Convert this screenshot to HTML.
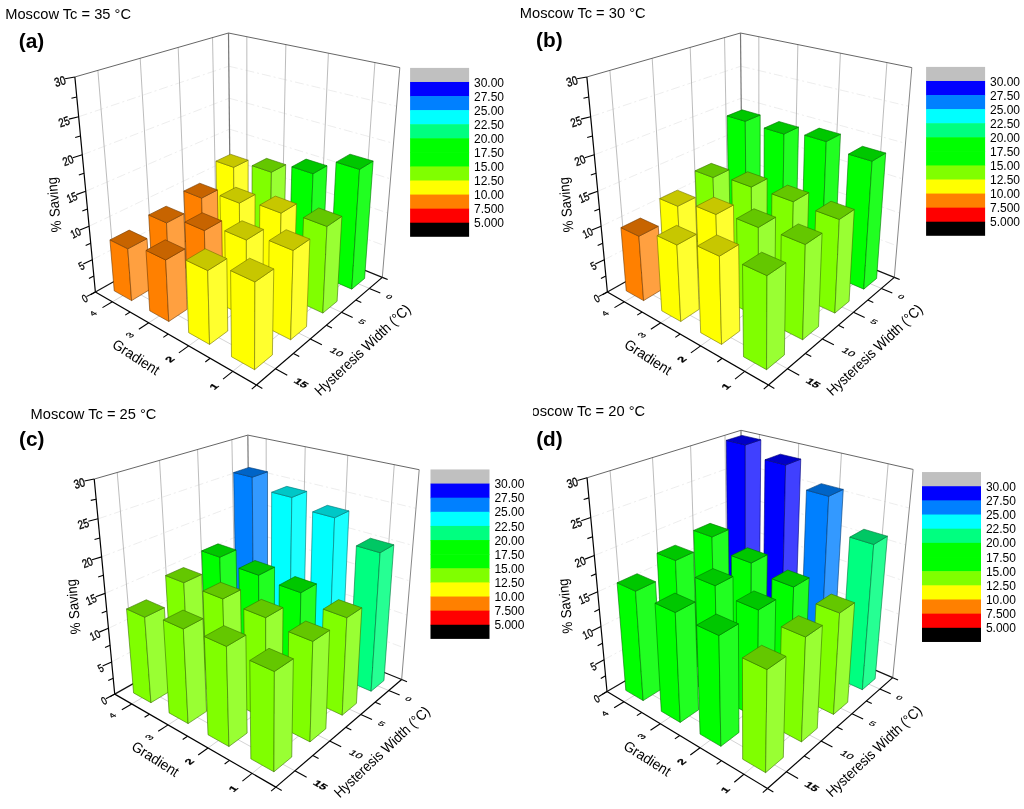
<!DOCTYPE html>
<html><head><meta charset="utf-8"><title>Moscow Saving</title>
<style>html,body{margin:0;padding:0;background:#fff}svg{display:block}text{font-family:"Liberation Sans",Arial,sans-serif;fill:#000}</style>
</head><body>
<svg width="1024" height="809" viewBox="0 0 1024 809">
<defs><clipPath id="cd"><rect x="533.1" y="400" width="200" height="30"/></clipPath></defs>
<rect width="1024" height="809" fill="#fff"/>
<g>
<polygon points="95.38,292.01 230.37,215.79 228.49,33.02 74.87,76.96" fill="#fff" stroke="none" stroke-width="0" stroke-linejoin="round"/>
<polygon points="230.37,215.79 382.30,277.37 399.84,67.59 228.49,33.02" fill="#fff" stroke="none" stroke-width="0" stroke-linejoin="round"/>
<line x1="92.30" y1="259.78" x2="230.09" y2="187.87" stroke="#e9e9e9" stroke-width="0.8" stroke-dasharray="9 3 2 3"/>
<line x1="230.09" y1="187.87" x2="384.94" y2="245.82" stroke="#e9e9e9" stroke-width="0.8" stroke-dasharray="9 3 2 3"/>
<line x1="89.11" y1="226.23" x2="229.79" y2="159.00" stroke="#e9e9e9" stroke-width="0.8" stroke-dasharray="9 3 2 3"/>
<line x1="229.79" y1="159.00" x2="387.68" y2="213.02" stroke="#e9e9e9" stroke-width="0.8" stroke-dasharray="9 3 2 3"/>
<line x1="85.77" y1="191.27" x2="229.48" y2="129.14" stroke="#e9e9e9" stroke-width="0.8" stroke-dasharray="9 3 2 3"/>
<line x1="229.48" y1="129.14" x2="390.53" y2="178.89" stroke="#e9e9e9" stroke-width="0.8" stroke-dasharray="9 3 2 3"/>
<line x1="82.30" y1="154.80" x2="229.16" y2="98.22" stroke="#e9e9e9" stroke-width="0.8" stroke-dasharray="9 3 2 3"/>
<line x1="229.16" y1="98.22" x2="393.51" y2="143.33" stroke="#e9e9e9" stroke-width="0.8" stroke-dasharray="9 3 2 3"/>
<line x1="78.67" y1="116.74" x2="228.83" y2="66.21" stroke="#e9e9e9" stroke-width="0.8" stroke-dasharray="9 3 2 3"/>
<line x1="228.83" y1="66.21" x2="396.61" y2="106.26" stroke="#e9e9e9" stroke-width="0.8" stroke-dasharray="9 3 2 3"/>
<line x1="216.07" y1="223.86" x2="212.54" y2="37.58" stroke="#b4b4b4" stroke-width="0.9"/>
<line x1="185.50" y1="241.12" x2="178.20" y2="47.41" stroke="#b4b4b4" stroke-width="0.9"/>
<line x1="152.03" y1="260.02" x2="140.19" y2="58.28" stroke="#b4b4b4" stroke-width="0.9"/>
<line x1="115.21" y1="280.81" x2="97.88" y2="70.38" stroke="#b4b4b4" stroke-width="0.9"/>
<line x1="360.55" y1="268.55" x2="374.91" y2="62.56" stroke="#b4b4b4" stroke-width="0.9"/>
<line x1="319.65" y1="251.97" x2="328.40" y2="53.17" stroke="#b4b4b4" stroke-width="0.9"/>
<line x1="281.89" y1="236.67" x2="285.87" y2="44.60" stroke="#b4b4b4" stroke-width="0.9"/>
<line x1="246.91" y1="222.49" x2="246.83" y2="36.72" stroke="#b4b4b4" stroke-width="0.9"/>
<line x1="74.87" y1="76.96" x2="228.49" y2="33.02" stroke="#555" stroke-width="0.9"/>
<line x1="228.49" y1="33.02" x2="399.84" y2="67.59" stroke="#555" stroke-width="0.9"/>
<line x1="228.49" y1="33.02" x2="230.37" y2="215.79" stroke="#777" stroke-width="1.2"/>
<line x1="399.84" y1="67.59" x2="382.30" y2="277.37" stroke="#888" stroke-width="1"/>
<polygon points="95.38,292.01 256.48,385.03 382.30,277.37 230.37,215.79" fill="#fff" stroke="none" stroke-width="0" stroke-linejoin="round"/>
<line x1="369.38" y1="288.42" x2="216.07" y2="223.86" stroke="#cfcfcf" stroke-width="0.9"/>
<line x1="341.46" y1="312.31" x2="185.50" y2="241.12" stroke="#cfcfcf" stroke-width="0.9"/>
<line x1="310.37" y1="338.92" x2="152.03" y2="260.02" stroke="#cfcfcf" stroke-width="0.9"/>
<line x1="275.53" y1="368.73" x2="115.21" y2="280.81" stroke="#cfcfcf" stroke-width="0.9"/>
<line x1="360.55" y1="268.55" x2="232.71" y2="371.31" stroke="#cfcfcf" stroke-width="0.9"/>
<line x1="319.65" y1="251.97" x2="188.66" y2="345.87" stroke="#cfcfcf" stroke-width="0.9"/>
<line x1="281.89" y1="236.67" x2="148.73" y2="322.81" stroke="#cfcfcf" stroke-width="0.9"/>
<line x1="246.91" y1="222.49" x2="112.37" y2="301.82" stroke="#cfcfcf" stroke-width="0.9"/>
<line x1="95.38" y1="292.01" x2="230.37" y2="215.79" stroke="#111" stroke-width="1.2"/>
<line x1="230.37" y1="215.79" x2="382.30" y2="277.37" stroke="#111" stroke-width="1.2"/>
<polygon points="217.24,231.41 234.23,238.70 233.66,167.32 215.95,161.13" fill="#ffff00" stroke="#737300" stroke-width="0.6" stroke-linejoin="round"/>
<polygon points="234.23,238.70 248.13,230.33 248.15,160.17 233.66,167.32" fill="#ffff2e" stroke="#737300" stroke-width="0.6" stroke-linejoin="round"/>
<polygon points="215.95,161.13 233.66,167.32 248.15,160.17 230.55,154.25" fill="#c7c700" stroke="#737300" stroke-width="0.6" stroke-linejoin="round"/>
<polygon points="251.90,246.28 270.27,254.16 271.41,172.23 252.11,165.65" fill="#80ff00" stroke="#3a7300" stroke-width="0.6" stroke-linejoin="round"/>
<polygon points="270.27,254.16 283.91,245.12 285.69,164.63 271.41,172.23" fill="#99ff33" stroke="#3a7300" stroke-width="0.6" stroke-linejoin="round"/>
<polygon points="252.11,165.65 271.41,172.23 285.69,164.63 266.54,158.36" fill="#64c700" stroke="#3a7300" stroke-width="0.6" stroke-linejoin="round"/>
<polygon points="289.39,262.37 309.31,270.92 313.02,173.71 291.85,166.76" fill="#00ff00" stroke="#007300" stroke-width="0.6" stroke-linejoin="round"/>
<polygon points="309.31,270.92 322.61,261.11 327.01,165.70 313.02,173.71" fill="#21ff21" stroke="#007300" stroke-width="0.6" stroke-linejoin="round"/>
<polygon points="291.85,166.76 313.02,173.71 327.01,165.70 306.05,159.09" fill="#00c700" stroke="#007300" stroke-width="0.6" stroke-linejoin="round"/>
<polygon points="330.08,279.83 351.75,289.13 359.55,169.40 336.11,162.16" fill="#00ff00" stroke="#007300" stroke-width="0.6" stroke-linejoin="round"/>
<polygon points="351.75,289.13 364.60,278.47 373.14,161.04 359.55,169.40" fill="#21ff21" stroke="#007300" stroke-width="0.6" stroke-linejoin="round"/>
<polygon points="336.11,162.16 359.55,169.40 373.14,161.04 349.99,154.17" fill="#00c700" stroke="#007300" stroke-width="0.6" stroke-linejoin="round"/>
<polygon points="186.08,249.38 203.26,257.38 201.65,198.10 183.89,191.03" fill="#ff8000" stroke="#733a00" stroke-width="0.6" stroke-linejoin="round"/>
<polygon points="203.26,257.38 218.48,248.20 217.45,189.95 201.65,198.10" fill="#ffa040" stroke="#733a00" stroke-width="0.6" stroke-linejoin="round"/>
<polygon points="183.89,191.03 201.65,198.10 217.45,189.95 199.78,183.21" fill="#c76400" stroke="#733a00" stroke-width="0.6" stroke-linejoin="round"/>
<polygon points="221.14,265.71 239.77,274.39 239.42,203.11 219.99,195.59" fill="#ffff00" stroke="#737300" stroke-width="0.6" stroke-linejoin="round"/>
<polygon points="239.77,274.39 254.78,264.44 255.08,194.45 239.42,203.11" fill="#ffff2e" stroke="#737300" stroke-width="0.6" stroke-linejoin="round"/>
<polygon points="219.99,195.59 239.42,203.11 255.08,194.45 235.79,187.29" fill="#c7c700" stroke="#737300" stroke-width="0.6" stroke-linejoin="round"/>
<polygon points="259.20,283.44 279.48,292.89 281.08,213.13 259.77,205.02" fill="#ffff00" stroke="#737300" stroke-width="0.6" stroke-linejoin="round"/>
<polygon points="279.48,292.89 294.17,282.07 296.44,203.80 281.08,213.13" fill="#ffff2e" stroke="#737300" stroke-width="0.6" stroke-linejoin="round"/>
<polygon points="259.77,205.02 281.08,213.13 296.44,203.80 275.32,196.09" fill="#c7c700" stroke="#737300" stroke-width="0.6" stroke-linejoin="round"/>
<polygon points="300.68,302.76 322.84,313.09 326.98,226.47 303.53,217.64" fill="#80ff00" stroke="#3a7300" stroke-width="0.6" stroke-linejoin="round"/>
<polygon points="322.84,313.09 337.10,301.27 341.89,216.32 326.98,226.47" fill="#99ff33" stroke="#3a7300" stroke-width="0.6" stroke-linejoin="round"/>
<polygon points="303.53,217.64 326.98,226.47 341.89,216.32 318.70,207.95" fill="#64c700" stroke="#3a7300" stroke-width="0.6" stroke-linejoin="round"/>
<polygon points="151.90,269.10 169.20,277.92 166.52,222.86 148.70,214.93" fill="#ff8000" stroke="#733a00" stroke-width="0.6" stroke-linejoin="round"/>
<polygon points="169.20,277.92 185.96,267.81 183.91,213.74 166.52,222.86" fill="#ffa040" stroke="#733a00" stroke-width="0.6" stroke-linejoin="round"/>
<polygon points="148.70,214.93 166.52,222.86 183.91,213.74 166.14,206.19" fill="#c76400" stroke="#733a00" stroke-width="0.6" stroke-linejoin="round"/>
<polygon points="187.25,287.11 206.10,296.71 204.38,230.59 184.80,222.09" fill="#ff8000" stroke="#733a00" stroke-width="0.6" stroke-linejoin="round"/>
<polygon points="206.10,296.71 222.69,285.72 221.68,220.82 204.38,230.59" fill="#ffa040" stroke="#733a00" stroke-width="0.6" stroke-linejoin="round"/>
<polygon points="184.80,222.09 204.38,230.59 221.68,220.82 202.21,212.74" fill="#c76400" stroke="#733a00" stroke-width="0.6" stroke-linejoin="round"/>
<polygon points="225.80,306.75 246.42,317.25 246.36,239.97 224.76,230.79" fill="#ffff00" stroke="#737300" stroke-width="0.6" stroke-linejoin="round"/>
<polygon points="246.42,317.25 262.73,305.24 263.45,229.43 246.36,239.97" fill="#ffff2e" stroke="#737300" stroke-width="0.6" stroke-linejoin="round"/>
<polygon points="224.76,230.79 246.36,239.97 263.45,229.43 242.02,220.74" fill="#c7c700" stroke="#737300" stroke-width="0.6" stroke-linejoin="round"/>
<polygon points="268.01,328.25 290.64,339.78 293.12,250.49 269.15,240.54" fill="#ffff00" stroke="#737300" stroke-width="0.6" stroke-linejoin="round"/>
<polygon points="290.64,339.78 306.54,326.60 309.85,239.08 293.12,250.49" fill="#ffff2e" stroke="#737300" stroke-width="0.6" stroke-linejoin="round"/>
<polygon points="269.15,240.54 293.12,250.49 309.85,239.08 286.13,229.68" fill="#c7c700" stroke="#737300" stroke-width="0.6" stroke-linejoin="round"/>
<polygon points="114.22,290.84 131.58,300.60 127.80,248.79 109.96,239.88" fill="#ff8000" stroke="#733a00" stroke-width="0.6" stroke-linejoin="round"/>
<polygon points="131.58,300.60 150.12,289.42 147.02,238.57 127.80,248.79" fill="#ffa040" stroke="#733a00" stroke-width="0.6" stroke-linejoin="round"/>
<polygon points="109.96,239.88 127.80,248.79 147.02,238.57 129.20,230.10" fill="#c76400" stroke="#733a00" stroke-width="0.6" stroke-linejoin="round"/>
<polygon points="149.74,310.80 168.75,321.48 165.66,259.99 146.00,250.36" fill="#ff8000" stroke="#733a00" stroke-width="0.6" stroke-linejoin="round"/>
<polygon points="168.75,321.48 187.18,309.26 184.87,248.94 165.66,259.99" fill="#ffa040" stroke="#733a00" stroke-width="0.6" stroke-linejoin="round"/>
<polygon points="146.00,250.36 165.66,259.99 184.87,248.94 165.28,239.81" fill="#c76400" stroke="#733a00" stroke-width="0.6" stroke-linejoin="round"/>
<polygon points="188.67,332.67 209.55,344.41 207.73,270.59 185.92,260.15" fill="#ffff00" stroke="#737300" stroke-width="0.6" stroke-linejoin="round"/>
<polygon points="209.55,344.41 227.76,331.00 226.84,258.62 207.73,270.59" fill="#ffff2e" stroke="#737300" stroke-width="0.6" stroke-linejoin="round"/>
<polygon points="185.92,260.15 207.73,270.59 226.84,258.62 205.16,248.76" fill="#c7c700" stroke="#737300" stroke-width="0.6" stroke-linejoin="round"/>
<polygon points="231.49,356.74 254.55,369.70 254.95,281.92 230.58,270.56" fill="#ffff00" stroke="#737300" stroke-width="0.6" stroke-linejoin="round"/>
<polygon points="254.55,369.70 272.40,354.90 273.79,268.90 254.95,281.92" fill="#ffff2e" stroke="#737300" stroke-width="0.6" stroke-linejoin="round"/>
<polygon points="230.58,270.56 254.95,281.92 273.79,268.90 249.64,258.20" fill="#c7c700" stroke="#737300" stroke-width="0.6" stroke-linejoin="round"/>
<line x1="95.38" y1="292.01" x2="74.87" y2="76.96" stroke="#000" stroke-width="1.2"/>
<line x1="95.38" y1="292.01" x2="256.48" y2="385.03" stroke="#000" stroke-width="1.2"/>
<line x1="256.48" y1="385.03" x2="382.30" y2="277.37" stroke="#000" stroke-width="1.2"/>
<line x1="95.38" y1="292.01" x2="86.51" y2="296.62" stroke="#000" stroke-width="1.1"/>
<line x1="93.86" y1="276.06" x2="88.92" y2="278.49" stroke="#000" stroke-width="1.1"/>
<line x1="92.30" y1="259.78" x2="83.24" y2="264.00" stroke="#000" stroke-width="1.1"/>
<line x1="90.72" y1="243.18" x2="85.68" y2="245.38" stroke="#000" stroke-width="1.1"/>
<line x1="89.11" y1="226.23" x2="79.85" y2="230.03" stroke="#000" stroke-width="1.1"/>
<line x1="87.46" y1="208.93" x2="82.32" y2="210.90" stroke="#000" stroke-width="1.1"/>
<line x1="85.77" y1="191.27" x2="76.35" y2="194.61" stroke="#000" stroke-width="1.1"/>
<line x1="84.05" y1="173.23" x2="78.83" y2="174.94" stroke="#000" stroke-width="1.1"/>
<line x1="82.30" y1="154.80" x2="72.72" y2="157.68" stroke="#000" stroke-width="1.1"/>
<line x1="80.50" y1="135.98" x2="75.19" y2="137.42" stroke="#000" stroke-width="1.1"/>
<line x1="78.67" y1="116.74" x2="68.95" y2="119.12" stroke="#000" stroke-width="1.1"/>
<line x1="76.79" y1="97.07" x2="71.42" y2="98.24" stroke="#000" stroke-width="1.1"/>
<line x1="74.87" y1="76.96" x2="65.05" y2="78.83" stroke="#000" stroke-width="1.1"/>
<line x1="256.48" y1="385.03" x2="251.74" y2="389.10" stroke="#000" stroke-width="1.1"/>
<line x1="232.71" y1="371.31" x2="223.04" y2="379.08" stroke="#000" stroke-width="1.1"/>
<line x1="210.13" y1="358.27" x2="205.29" y2="361.94" stroke="#000" stroke-width="1.1"/>
<line x1="188.66" y1="345.87" x2="178.86" y2="352.90" stroke="#000" stroke-width="1.1"/>
<line x1="168.22" y1="334.07" x2="163.33" y2="337.39" stroke="#000" stroke-width="1.1"/>
<line x1="148.73" y1="322.81" x2="138.86" y2="329.20" stroke="#000" stroke-width="1.1"/>
<line x1="130.13" y1="312.08" x2="125.22" y2="315.11" stroke="#000" stroke-width="1.1"/>
<line x1="112.37" y1="301.82" x2="102.48" y2="307.65" stroke="#000" stroke-width="1.1"/>
<line x1="95.38" y1="292.01" x2="90.47" y2="294.78" stroke="#000" stroke-width="1.1"/>
<line x1="382.30" y1="277.37" x2="387.66" y2="279.54" stroke="#000" stroke-width="1.1"/>
<line x1="369.38" y1="288.42" x2="380.30" y2="293.01" stroke="#000" stroke-width="1.1"/>
<line x1="355.79" y1="300.05" x2="361.29" y2="302.46" stroke="#000" stroke-width="1.1"/>
<line x1="341.46" y1="312.31" x2="352.66" y2="317.42" stroke="#000" stroke-width="1.1"/>
<line x1="326.35" y1="325.25" x2="331.98" y2="327.93" stroke="#000" stroke-width="1.1"/>
<line x1="310.37" y1="338.92" x2="321.85" y2="344.64" stroke="#000" stroke-width="1.1"/>
<line x1="293.46" y1="353.39" x2="299.23" y2="356.40" stroke="#000" stroke-width="1.1"/>
<line x1="275.53" y1="368.73" x2="287.27" y2="375.17" stroke="#000" stroke-width="1.1"/>
<line x1="256.48" y1="385.03" x2="262.38" y2="388.44" stroke="#000" stroke-width="1.1"/>
<text transform="matrix(0.6142 -0.3440 0.4300 0.7678 86.51 296.62)" font-size="12.5" text-anchor="end" y="5.30" font-weight="normal" stroke="#000" stroke-width="0.35">0</text>
<text transform="matrix(0.6402 -0.3294 0.4117 0.8003 83.24 264.00)" font-size="12.5" text-anchor="end" y="5.30" font-weight="normal" stroke="#000" stroke-width="0.35">5</text>
<text transform="matrix(0.6664 -0.3125 0.3906 0.8329 79.85 230.03)" font-size="12.5" text-anchor="end" y="5.30" font-weight="normal" stroke="#000" stroke-width="0.35">10</text>
<text transform="matrix(0.6925 -0.2933 0.3666 0.8656 76.35 194.61)" font-size="12.5" text-anchor="end" y="5.30" font-weight="normal" stroke="#000" stroke-width="0.35">15</text>
<text transform="matrix(0.7184 -0.2716 0.3394 0.8980 72.72 157.68)" font-size="12.5" text-anchor="end" y="5.30" font-weight="normal" stroke="#000" stroke-width="0.35">20</text>
<text transform="matrix(0.7440 -0.2474 0.3092 0.9299 68.95 119.12)" font-size="12.5" text-anchor="end" y="5.30" font-weight="normal" stroke="#000" stroke-width="0.35">25</text>
<text transform="matrix(0.7690 -0.2207 0.2759 0.9612 65.05 78.83)" font-size="12.5" text-anchor="end" y="5.30" font-weight="normal" stroke="#000" stroke-width="0.35">30</text>
<text transform="matrix(0.7794 -0.6265 0.6883 0.4078 216.42 384.40)" font-size="12" text-anchor="end" y="4.30" font-weight="bold" stroke="#000" stroke-width="0.3">1</text>
<text transform="matrix(0.7721 -0.5535 0.7313 0.4332 172.36 357.56)" font-size="12" text-anchor="end" y="4.30" font-weight="bold" stroke="#000" stroke-width="0.3">2</text>
<text transform="matrix(0.7137 -0.4617 0.6711 0.3976 132.14 333.55)" font-size="12" text-anchor="end" y="4.30" font-weight="normal" stroke="#000" stroke-width="0.3">3</text>
<text transform="matrix(0.6891 -0.4063 0.6022 0.3568 95.16 311.97)" font-size="12" text-anchor="end" y="4.30" font-weight="normal" stroke="#000" stroke-width="0.3">4</text>
<text transform="matrix(0.7373 0.3105 -0.4122 0.3641 386.75 295.73)" font-size="12" text-anchor="start" y="4.30" font-weight="normal" stroke="#000" stroke-width="0.3">0</text>
<text transform="matrix(0.8187 0.3737 -0.4497 0.3972 359.48 320.54)" font-size="12" text-anchor="start" y="4.30" font-weight="normal" stroke="#000" stroke-width="0.3">5</text>
<text transform="matrix(0.8503 0.4237 -0.5397 0.4766 331.24 349.32)" font-size="12" text-anchor="start" y="4.30" font-weight="normal" stroke="#000" stroke-width="0.3">10</text>
<text transform="matrix(0.8593 0.4712 -0.5996 0.5296 295.60 379.74)" font-size="12" text-anchor="start" y="4.30" font-weight="bold" stroke="#000" stroke-width="0.3">15</text>
<text transform="translate(59.00 204.30) rotate(-95.2) scale(0.9 1)" font-size="14.5" text-anchor="middle">% Saving</text>
<text transform="translate(133.50 361.30) rotate(32.5) scale(0.95 1)" font-size="14.5" text-anchor="middle">Gradient</text>
<text transform="translate(366.00 353.50) rotate(-43.3) scale(0.905 1)" font-size="14.5" text-anchor="middle">Hysteresis Width (°C)</text>
<rect x="410.10" y="67.90" width="59" height="14.67" fill="#c0c0c0"/>
<rect x="410.10" y="81.98" width="59" height="14.67" fill="#0000ff"/>
<rect x="410.10" y="96.05" width="59" height="14.67" fill="#0080ff"/>
<rect x="410.10" y="110.12" width="59" height="14.67" fill="#00ffff"/>
<rect x="410.10" y="124.20" width="59" height="14.67" fill="#00ff80"/>
<rect x="410.10" y="138.28" width="59" height="14.67" fill="#00ff00"/>
<rect x="410.10" y="152.35" width="59" height="14.67" fill="#00ff00"/>
<rect x="410.10" y="166.43" width="59" height="14.67" fill="#80ff00"/>
<rect x="410.10" y="180.50" width="59" height="14.67" fill="#ffff00"/>
<rect x="410.10" y="194.57" width="59" height="14.67" fill="#ff8000"/>
<rect x="410.10" y="208.65" width="59" height="14.67" fill="#ff0000"/>
<rect x="410.10" y="222.72" width="59" height="14.07" fill="#000000"/>
<text x="474.00" y="86.58" font-size="12">30.00</text>
<text x="474.00" y="100.65" font-size="12">27.50</text>
<text x="474.00" y="114.72" font-size="12">25.00</text>
<text x="474.00" y="128.80" font-size="12">22.50</text>
<text x="474.00" y="142.88" font-size="12">20.00</text>
<text x="474.00" y="156.95" font-size="12">17.50</text>
<text x="474.00" y="171.03" font-size="12">15.00</text>
<text x="474.00" y="185.10" font-size="12">12.50</text>
<text x="474.00" y="199.18" font-size="12">10.00</text>
<text x="474.00" y="213.25" font-size="12">7.500</text>
<text x="474.00" y="227.33" font-size="12">5.000</text>
<text x="5.2" y="18.7" font-size="14.6" textLength="125.8" lengthAdjust="spacingAndGlyphs">Moscow Tc = 35 °C</text>
<text x="18.8" y="47.6" font-size="20.8" font-weight="bold">(a)</text>
</g>
<g>
<polygon points="607.38,292.01 742.37,215.79 740.49,33.02 586.87,76.96" fill="#fff" stroke="none" stroke-width="0" stroke-linejoin="round"/>
<polygon points="742.37,215.79 894.30,277.37 911.84,67.59 740.49,33.02" fill="#fff" stroke="none" stroke-width="0" stroke-linejoin="round"/>
<line x1="604.30" y1="259.78" x2="742.09" y2="187.87" stroke="#e9e9e9" stroke-width="0.8" stroke-dasharray="9 3 2 3"/>
<line x1="742.09" y1="187.87" x2="896.94" y2="245.82" stroke="#e9e9e9" stroke-width="0.8" stroke-dasharray="9 3 2 3"/>
<line x1="601.11" y1="226.23" x2="741.79" y2="159.00" stroke="#e9e9e9" stroke-width="0.8" stroke-dasharray="9 3 2 3"/>
<line x1="741.79" y1="159.00" x2="899.68" y2="213.02" stroke="#e9e9e9" stroke-width="0.8" stroke-dasharray="9 3 2 3"/>
<line x1="597.77" y1="191.27" x2="741.48" y2="129.14" stroke="#e9e9e9" stroke-width="0.8" stroke-dasharray="9 3 2 3"/>
<line x1="741.48" y1="129.14" x2="902.53" y2="178.89" stroke="#e9e9e9" stroke-width="0.8" stroke-dasharray="9 3 2 3"/>
<line x1="594.30" y1="154.80" x2="741.16" y2="98.22" stroke="#e9e9e9" stroke-width="0.8" stroke-dasharray="9 3 2 3"/>
<line x1="741.16" y1="98.22" x2="905.51" y2="143.33" stroke="#e9e9e9" stroke-width="0.8" stroke-dasharray="9 3 2 3"/>
<line x1="590.67" y1="116.74" x2="740.83" y2="66.21" stroke="#e9e9e9" stroke-width="0.8" stroke-dasharray="9 3 2 3"/>
<line x1="740.83" y1="66.21" x2="908.61" y2="106.26" stroke="#e9e9e9" stroke-width="0.8" stroke-dasharray="9 3 2 3"/>
<line x1="728.07" y1="223.86" x2="724.54" y2="37.58" stroke="#b4b4b4" stroke-width="0.9"/>
<line x1="697.50" y1="241.12" x2="690.20" y2="47.41" stroke="#b4b4b4" stroke-width="0.9"/>
<line x1="664.03" y1="260.02" x2="652.19" y2="58.28" stroke="#b4b4b4" stroke-width="0.9"/>
<line x1="627.21" y1="280.81" x2="609.88" y2="70.38" stroke="#b4b4b4" stroke-width="0.9"/>
<line x1="872.55" y1="268.55" x2="886.91" y2="62.56" stroke="#b4b4b4" stroke-width="0.9"/>
<line x1="831.65" y1="251.97" x2="840.40" y2="53.17" stroke="#b4b4b4" stroke-width="0.9"/>
<line x1="793.89" y1="236.67" x2="797.87" y2="44.60" stroke="#b4b4b4" stroke-width="0.9"/>
<line x1="758.91" y1="222.49" x2="758.83" y2="36.72" stroke="#b4b4b4" stroke-width="0.9"/>
<line x1="586.87" y1="76.96" x2="740.49" y2="33.02" stroke="#555" stroke-width="0.9"/>
<line x1="740.49" y1="33.02" x2="911.84" y2="67.59" stroke="#555" stroke-width="0.9"/>
<line x1="740.49" y1="33.02" x2="742.37" y2="215.79" stroke="#777" stroke-width="1.2"/>
<line x1="911.84" y1="67.59" x2="894.30" y2="277.37" stroke="#888" stroke-width="1"/>
<polygon points="607.38,292.01 768.48,385.03 894.30,277.37 742.37,215.79" fill="#fff" stroke="none" stroke-width="0" stroke-linejoin="round"/>
<line x1="881.38" y1="288.42" x2="728.07" y2="223.86" stroke="#cfcfcf" stroke-width="0.9"/>
<line x1="853.46" y1="312.31" x2="697.50" y2="241.12" stroke="#cfcfcf" stroke-width="0.9"/>
<line x1="822.37" y1="338.92" x2="664.03" y2="260.02" stroke="#cfcfcf" stroke-width="0.9"/>
<line x1="787.53" y1="368.73" x2="627.21" y2="280.81" stroke="#cfcfcf" stroke-width="0.9"/>
<line x1="872.55" y1="268.55" x2="744.71" y2="371.31" stroke="#cfcfcf" stroke-width="0.9"/>
<line x1="831.65" y1="251.97" x2="700.66" y2="345.87" stroke="#cfcfcf" stroke-width="0.9"/>
<line x1="793.89" y1="236.67" x2="660.73" y2="322.81" stroke="#cfcfcf" stroke-width="0.9"/>
<line x1="758.91" y1="222.49" x2="624.37" y2="301.82" stroke="#cfcfcf" stroke-width="0.9"/>
<line x1="607.38" y1="292.01" x2="742.37" y2="215.79" stroke="#111" stroke-width="1.2"/>
<line x1="742.37" y1="215.79" x2="894.30" y2="277.37" stroke="#111" stroke-width="1.2"/>
<polygon points="729.24,231.41 746.23,238.70 745.28,121.28 727.12,115.85" fill="#00ff00" stroke="#007300" stroke-width="0.6" stroke-linejoin="round"/>
<polygon points="746.23,238.70 760.13,230.33 760.17,114.98 745.28,121.28" fill="#21ff21" stroke="#007300" stroke-width="0.6" stroke-linejoin="round"/>
<polygon points="727.12,115.85 745.28,121.28 760.17,114.98 742.11,109.80" fill="#00c700" stroke="#007300" stroke-width="0.6" stroke-linejoin="round"/>
<polygon points="763.90,246.28 782.27,254.16 783.94,134.00 764.21,128.07" fill="#00ff00" stroke="#007300" stroke-width="0.6" stroke-linejoin="round"/>
<polygon points="782.27,254.16 795.91,245.12 798.52,127.14 783.94,134.00" fill="#21ff21" stroke="#007300" stroke-width="0.6" stroke-linejoin="round"/>
<polygon points="764.21,128.07 783.94,134.00 798.52,127.14 778.95,121.50" fill="#00c700" stroke="#007300" stroke-width="0.6" stroke-linejoin="round"/>
<polygon points="801.39,262.37 821.31,270.92 826.25,141.52 804.66,135.15" fill="#00ff00" stroke="#007300" stroke-width="0.6" stroke-linejoin="round"/>
<polygon points="821.31,270.92 834.61,261.11 840.47,134.15 826.25,141.52" fill="#21ff21" stroke="#007300" stroke-width="0.6" stroke-linejoin="round"/>
<polygon points="804.66,135.15 826.25,141.52 840.47,134.15 819.10,128.10" fill="#00c700" stroke="#007300" stroke-width="0.6" stroke-linejoin="round"/>
<polygon points="842.08,279.83 863.75,289.13 872.08,161.20 848.52,154.11" fill="#00ff00" stroke="#007300" stroke-width="0.6" stroke-linejoin="round"/>
<polygon points="863.75,289.13 876.60,278.47 885.72,153.02 872.08,161.20" fill="#21ff21" stroke="#007300" stroke-width="0.6" stroke-linejoin="round"/>
<polygon points="848.52,154.11 872.08,161.20 885.72,153.02 862.45,146.29" fill="#00c700" stroke="#007300" stroke-width="0.6" stroke-linejoin="round"/>
<polygon points="698.08,249.38 715.26,257.38 713.09,177.50 695.13,170.77" fill="#80ff00" stroke="#3a7300" stroke-width="0.6" stroke-linejoin="round"/>
<polygon points="715.26,257.38 730.48,248.20 729.09,169.74 713.09,177.50" fill="#99ff33" stroke="#3a7300" stroke-width="0.6" stroke-linejoin="round"/>
<polygon points="695.13,170.77 713.09,177.50 729.09,169.74 711.23,163.32" fill="#64c700" stroke="#3a7300" stroke-width="0.6" stroke-linejoin="round"/>
<polygon points="733.14,265.71 751.77,274.39 751.34,187.01 731.74,179.77" fill="#80ff00" stroke="#3a7300" stroke-width="0.6" stroke-linejoin="round"/>
<polygon points="751.77,274.39 766.78,264.44 767.15,178.66 751.34,187.01" fill="#99ff33" stroke="#3a7300" stroke-width="0.6" stroke-linejoin="round"/>
<polygon points="731.74,179.77 751.34,187.01 767.15,178.66 747.68,171.77" fill="#64c700" stroke="#3a7300" stroke-width="0.6" stroke-linejoin="round"/>
<polygon points="771.20,283.44 791.48,292.89 793.30,201.73 771.85,193.82" fill="#80ff00" stroke="#3a7300" stroke-width="0.6" stroke-linejoin="round"/>
<polygon points="791.48,292.89 806.17,282.07 808.77,192.63 793.30,201.73" fill="#99ff33" stroke="#3a7300" stroke-width="0.6" stroke-linejoin="round"/>
<polygon points="771.85,193.82 793.30,201.73 808.77,192.63 787.50,185.12" fill="#64c700" stroke="#3a7300" stroke-width="0.6" stroke-linejoin="round"/>
<polygon points="812.68,302.76 834.84,313.09 839.31,219.44 815.76,210.74" fill="#80ff00" stroke="#3a7300" stroke-width="0.6" stroke-linejoin="round"/>
<polygon points="834.84,313.09 849.10,301.27 854.28,209.44 839.31,219.44" fill="#99ff33" stroke="#3a7300" stroke-width="0.6" stroke-linejoin="round"/>
<polygon points="815.76,210.74 839.31,219.44 854.28,209.44 830.99,201.20" fill="#64c700" stroke="#3a7300" stroke-width="0.6" stroke-linejoin="round"/>
<polygon points="663.90,269.10 681.20,277.92 677.71,206.24 659.73,198.60" fill="#ffff00" stroke="#737300" stroke-width="0.6" stroke-linejoin="round"/>
<polygon points="681.20,277.92 697.96,267.81 695.29,197.44 677.71,206.24" fill="#ffff2e" stroke="#737300" stroke-width="0.6" stroke-linejoin="round"/>
<polygon points="659.73,198.60 677.71,206.24 695.29,197.44 677.36,190.16" fill="#c7c700" stroke="#737300" stroke-width="0.6" stroke-linejoin="round"/>
<polygon points="699.25,287.11 718.10,296.71 715.96,214.46 696.21,206.25" fill="#ffff00" stroke="#737300" stroke-width="0.6" stroke-linejoin="round"/>
<polygon points="718.10,296.71 734.69,285.72 733.43,205.01 715.96,214.46" fill="#ffff2e" stroke="#737300" stroke-width="0.6" stroke-linejoin="round"/>
<polygon points="696.21,206.25 715.96,214.46 733.43,205.01 713.79,197.21" fill="#c7c700" stroke="#737300" stroke-width="0.6" stroke-linejoin="round"/>
<polygon points="737.80,306.75 758.42,317.25 758.35,227.48 736.59,218.54" fill="#80ff00" stroke="#3a7300" stroke-width="0.6" stroke-linejoin="round"/>
<polygon points="758.42,317.25 774.73,305.24 775.57,217.21 758.35,227.48" fill="#99ff33" stroke="#3a7300" stroke-width="0.6" stroke-linejoin="round"/>
<polygon points="736.59,218.54 758.35,227.48 775.57,217.21 753.98,208.74" fill="#64c700" stroke="#3a7300" stroke-width="0.6" stroke-linejoin="round"/>
<polygon points="780.01,328.25 802.64,339.78 805.29,244.46 781.23,234.62" fill="#80ff00" stroke="#3a7300" stroke-width="0.6" stroke-linejoin="round"/>
<polygon points="802.64,339.78 818.54,326.60 822.07,233.17 805.29,244.46" fill="#99ff33" stroke="#3a7300" stroke-width="0.6" stroke-linejoin="round"/>
<polygon points="781.23,234.62 805.29,244.46 822.07,233.17 798.26,223.89" fill="#64c700" stroke="#3a7300" stroke-width="0.6" stroke-linejoin="round"/>
<polygon points="626.22,290.84 643.58,300.60 638.88,236.26 620.93,227.57" fill="#ff8000" stroke="#733a00" stroke-width="0.6" stroke-linejoin="round"/>
<polygon points="643.58,300.60 662.12,289.42 658.27,226.28 638.88,236.26" fill="#ffa040" stroke="#733a00" stroke-width="0.6" stroke-linejoin="round"/>
<polygon points="620.93,227.57 638.88,236.26 658.27,226.28 640.34,218.03" fill="#c76400" stroke="#733a00" stroke-width="0.6" stroke-linejoin="round"/>
<polygon points="661.74,310.80 680.75,321.48 676.90,244.99 657.08,235.63" fill="#ffff00" stroke="#737300" stroke-width="0.6" stroke-linejoin="round"/>
<polygon points="680.75,321.48 699.18,309.26 696.31,234.24 676.90,244.99" fill="#ffff2e" stroke="#737300" stroke-width="0.6" stroke-linejoin="round"/>
<polygon points="657.08,235.63 676.90,244.99 696.31,234.24 676.55,225.37" fill="#c7c700" stroke="#737300" stroke-width="0.6" stroke-linejoin="round"/>
<polygon points="700.67,332.67 721.55,344.41 719.38,256.19 697.38,246.02" fill="#ffff00" stroke="#737300" stroke-width="0.6" stroke-linejoin="round"/>
<polygon points="721.55,344.41 739.76,331.00 738.66,244.53 719.38,256.19" fill="#ffff2e" stroke="#737300" stroke-width="0.6" stroke-linejoin="round"/>
<polygon points="697.38,246.02 719.38,256.19 738.66,244.53 716.80,234.93" fill="#c7c700" stroke="#737300" stroke-width="0.6" stroke-linejoin="round"/>
<polygon points="743.49,356.74 766.55,369.70 766.98,275.64 742.52,264.40" fill="#80ff00" stroke="#3a7300" stroke-width="0.6" stroke-linejoin="round"/>
<polygon points="766.55,369.70 784.40,354.90 785.89,262.76 766.98,275.64" fill="#99ff33" stroke="#3a7300" stroke-width="0.6" stroke-linejoin="round"/>
<polygon points="742.52,264.40 766.98,275.64 785.89,262.76 761.65,252.18" fill="#64c700" stroke="#3a7300" stroke-width="0.6" stroke-linejoin="round"/>
<line x1="607.38" y1="292.01" x2="586.87" y2="76.96" stroke="#000" stroke-width="1.2"/>
<line x1="607.38" y1="292.01" x2="768.48" y2="385.03" stroke="#000" stroke-width="1.2"/>
<line x1="768.48" y1="385.03" x2="894.30" y2="277.37" stroke="#000" stroke-width="1.2"/>
<line x1="607.38" y1="292.01" x2="598.51" y2="296.62" stroke="#000" stroke-width="1.1"/>
<line x1="605.86" y1="276.06" x2="600.92" y2="278.49" stroke="#000" stroke-width="1.1"/>
<line x1="604.30" y1="259.78" x2="595.24" y2="264.00" stroke="#000" stroke-width="1.1"/>
<line x1="602.72" y1="243.18" x2="597.68" y2="245.38" stroke="#000" stroke-width="1.1"/>
<line x1="601.11" y1="226.23" x2="591.85" y2="230.03" stroke="#000" stroke-width="1.1"/>
<line x1="599.46" y1="208.93" x2="594.32" y2="210.90" stroke="#000" stroke-width="1.1"/>
<line x1="597.77" y1="191.27" x2="588.35" y2="194.61" stroke="#000" stroke-width="1.1"/>
<line x1="596.05" y1="173.23" x2="590.83" y2="174.94" stroke="#000" stroke-width="1.1"/>
<line x1="594.30" y1="154.80" x2="584.72" y2="157.68" stroke="#000" stroke-width="1.1"/>
<line x1="592.50" y1="135.98" x2="587.19" y2="137.42" stroke="#000" stroke-width="1.1"/>
<line x1="590.67" y1="116.74" x2="580.95" y2="119.12" stroke="#000" stroke-width="1.1"/>
<line x1="588.79" y1="97.07" x2="583.42" y2="98.24" stroke="#000" stroke-width="1.1"/>
<line x1="586.87" y1="76.96" x2="577.05" y2="78.83" stroke="#000" stroke-width="1.1"/>
<line x1="768.48" y1="385.03" x2="763.74" y2="389.10" stroke="#000" stroke-width="1.1"/>
<line x1="744.71" y1="371.31" x2="735.04" y2="379.08" stroke="#000" stroke-width="1.1"/>
<line x1="722.13" y1="358.27" x2="717.29" y2="361.94" stroke="#000" stroke-width="1.1"/>
<line x1="700.66" y1="345.87" x2="690.86" y2="352.90" stroke="#000" stroke-width="1.1"/>
<line x1="680.22" y1="334.07" x2="675.33" y2="337.39" stroke="#000" stroke-width="1.1"/>
<line x1="660.73" y1="322.81" x2="650.86" y2="329.20" stroke="#000" stroke-width="1.1"/>
<line x1="642.13" y1="312.08" x2="637.22" y2="315.11" stroke="#000" stroke-width="1.1"/>
<line x1="624.37" y1="301.82" x2="614.48" y2="307.65" stroke="#000" stroke-width="1.1"/>
<line x1="607.38" y1="292.01" x2="602.47" y2="294.78" stroke="#000" stroke-width="1.1"/>
<line x1="894.30" y1="277.37" x2="899.66" y2="279.54" stroke="#000" stroke-width="1.1"/>
<line x1="881.38" y1="288.42" x2="892.30" y2="293.01" stroke="#000" stroke-width="1.1"/>
<line x1="867.79" y1="300.05" x2="873.29" y2="302.46" stroke="#000" stroke-width="1.1"/>
<line x1="853.46" y1="312.31" x2="864.66" y2="317.42" stroke="#000" stroke-width="1.1"/>
<line x1="838.35" y1="325.25" x2="843.98" y2="327.93" stroke="#000" stroke-width="1.1"/>
<line x1="822.37" y1="338.92" x2="833.85" y2="344.64" stroke="#000" stroke-width="1.1"/>
<line x1="805.46" y1="353.39" x2="811.23" y2="356.40" stroke="#000" stroke-width="1.1"/>
<line x1="787.53" y1="368.73" x2="799.27" y2="375.17" stroke="#000" stroke-width="1.1"/>
<line x1="768.48" y1="385.03" x2="774.38" y2="388.44" stroke="#000" stroke-width="1.1"/>
<text transform="matrix(0.6142 -0.3440 0.4300 0.7678 598.51 296.62)" font-size="12.5" text-anchor="end" y="5.30" font-weight="normal" stroke="#000" stroke-width="0.35">0</text>
<text transform="matrix(0.6402 -0.3294 0.4117 0.8003 595.24 264.00)" font-size="12.5" text-anchor="end" y="5.30" font-weight="normal" stroke="#000" stroke-width="0.35">5</text>
<text transform="matrix(0.6664 -0.3125 0.3906 0.8329 591.85 230.03)" font-size="12.5" text-anchor="end" y="5.30" font-weight="normal" stroke="#000" stroke-width="0.35">10</text>
<text transform="matrix(0.6925 -0.2933 0.3666 0.8656 588.35 194.61)" font-size="12.5" text-anchor="end" y="5.30" font-weight="normal" stroke="#000" stroke-width="0.35">15</text>
<text transform="matrix(0.7184 -0.2716 0.3394 0.8980 584.72 157.68)" font-size="12.5" text-anchor="end" y="5.30" font-weight="normal" stroke="#000" stroke-width="0.35">20</text>
<text transform="matrix(0.7440 -0.2474 0.3092 0.9299 580.95 119.12)" font-size="12.5" text-anchor="end" y="5.30" font-weight="normal" stroke="#000" stroke-width="0.35">25</text>
<text transform="matrix(0.7690 -0.2207 0.2759 0.9612 577.05 78.83)" font-size="12.5" text-anchor="end" y="5.30" font-weight="normal" stroke="#000" stroke-width="0.35">30</text>
<text transform="matrix(0.7794 -0.6265 0.6883 0.4078 728.42 384.40)" font-size="12" text-anchor="end" y="4.30" font-weight="bold" stroke="#000" stroke-width="0.3">1</text>
<text transform="matrix(0.7721 -0.5535 0.7313 0.4332 684.36 357.56)" font-size="12" text-anchor="end" y="4.30" font-weight="bold" stroke="#000" stroke-width="0.3">2</text>
<text transform="matrix(0.7137 -0.4617 0.6711 0.3976 644.14 333.55)" font-size="12" text-anchor="end" y="4.30" font-weight="normal" stroke="#000" stroke-width="0.3">3</text>
<text transform="matrix(0.6891 -0.4063 0.6022 0.3568 607.16 311.97)" font-size="12" text-anchor="end" y="4.30" font-weight="normal" stroke="#000" stroke-width="0.3">4</text>
<text transform="matrix(0.7373 0.3105 -0.4122 0.3641 898.75 295.73)" font-size="12" text-anchor="start" y="4.30" font-weight="normal" stroke="#000" stroke-width="0.3">0</text>
<text transform="matrix(0.8187 0.3737 -0.4497 0.3972 871.48 320.54)" font-size="12" text-anchor="start" y="4.30" font-weight="normal" stroke="#000" stroke-width="0.3">5</text>
<text transform="matrix(0.8503 0.4237 -0.5397 0.4766 843.24 349.32)" font-size="12" text-anchor="start" y="4.30" font-weight="normal" stroke="#000" stroke-width="0.3">10</text>
<text transform="matrix(0.8593 0.4712 -0.5996 0.5296 807.60 379.74)" font-size="12" text-anchor="start" y="4.30" font-weight="bold" stroke="#000" stroke-width="0.3">15</text>
<text transform="translate(571.00 204.30) rotate(-95.2) scale(0.9 1)" font-size="14.5" text-anchor="middle">% Saving</text>
<text transform="translate(645.50 361.30) rotate(32.5) scale(0.95 1)" font-size="14.5" text-anchor="middle">Gradient</text>
<text transform="translate(878.00 353.50) rotate(-43.3) scale(0.905 1)" font-size="14.5" text-anchor="middle">Hysteresis Width (°C)</text>
<rect x="926.10" y="66.90" width="59" height="14.67" fill="#c0c0c0"/>
<rect x="926.10" y="80.98" width="59" height="14.67" fill="#0000ff"/>
<rect x="926.10" y="95.05" width="59" height="14.67" fill="#0080ff"/>
<rect x="926.10" y="109.12" width="59" height="14.67" fill="#00ffff"/>
<rect x="926.10" y="123.20" width="59" height="14.67" fill="#00ff80"/>
<rect x="926.10" y="137.28" width="59" height="14.67" fill="#00ff00"/>
<rect x="926.10" y="151.35" width="59" height="14.67" fill="#00ff00"/>
<rect x="926.10" y="165.43" width="59" height="14.67" fill="#80ff00"/>
<rect x="926.10" y="179.50" width="59" height="14.67" fill="#ffff00"/>
<rect x="926.10" y="193.57" width="59" height="14.67" fill="#ff8000"/>
<rect x="926.10" y="207.65" width="59" height="14.67" fill="#ff0000"/>
<rect x="926.10" y="221.72" width="59" height="14.07" fill="#000000"/>
<text x="990.00" y="85.58" font-size="12">30.00</text>
<text x="990.00" y="99.65" font-size="12">27.50</text>
<text x="990.00" y="113.72" font-size="12">25.00</text>
<text x="990.00" y="127.80" font-size="12">22.50</text>
<text x="990.00" y="141.88" font-size="12">20.00</text>
<text x="990.00" y="155.95" font-size="12">17.50</text>
<text x="990.00" y="170.03" font-size="12">15.00</text>
<text x="990.00" y="184.10" font-size="12">12.50</text>
<text x="990.00" y="198.18" font-size="12">10.00</text>
<text x="990.00" y="212.25" font-size="12">7.500</text>
<text x="990.00" y="226.33" font-size="12">5.000</text>
<text x="519.8" y="18.0" font-size="14.6" textLength="125.8" lengthAdjust="spacingAndGlyphs">Moscow Tc = 30 °C</text>
<text x="536.0" y="47.1" font-size="20.8" font-weight="bold">(b)</text>
</g>
<g>
<polygon points="114.73,694.11 249.72,617.89 247.84,435.12 94.22,479.06" fill="#fff" stroke="none" stroke-width="0" stroke-linejoin="round"/>
<polygon points="249.72,617.89 401.65,679.47 419.19,469.69 247.84,435.12" fill="#fff" stroke="none" stroke-width="0" stroke-linejoin="round"/>
<line x1="111.65" y1="661.88" x2="249.44" y2="589.97" stroke="#e9e9e9" stroke-width="0.8" stroke-dasharray="9 3 2 3"/>
<line x1="249.44" y1="589.97" x2="404.29" y2="647.92" stroke="#e9e9e9" stroke-width="0.8" stroke-dasharray="9 3 2 3"/>
<line x1="108.46" y1="628.33" x2="249.14" y2="561.10" stroke="#e9e9e9" stroke-width="0.8" stroke-dasharray="9 3 2 3"/>
<line x1="249.14" y1="561.10" x2="407.03" y2="615.12" stroke="#e9e9e9" stroke-width="0.8" stroke-dasharray="9 3 2 3"/>
<line x1="105.12" y1="593.37" x2="248.83" y2="531.24" stroke="#e9e9e9" stroke-width="0.8" stroke-dasharray="9 3 2 3"/>
<line x1="248.83" y1="531.24" x2="409.88" y2="580.99" stroke="#e9e9e9" stroke-width="0.8" stroke-dasharray="9 3 2 3"/>
<line x1="101.65" y1="556.90" x2="248.51" y2="500.32" stroke="#e9e9e9" stroke-width="0.8" stroke-dasharray="9 3 2 3"/>
<line x1="248.51" y1="500.32" x2="412.86" y2="545.43" stroke="#e9e9e9" stroke-width="0.8" stroke-dasharray="9 3 2 3"/>
<line x1="98.02" y1="518.84" x2="248.18" y2="468.31" stroke="#e9e9e9" stroke-width="0.8" stroke-dasharray="9 3 2 3"/>
<line x1="248.18" y1="468.31" x2="415.96" y2="508.36" stroke="#e9e9e9" stroke-width="0.8" stroke-dasharray="9 3 2 3"/>
<line x1="235.42" y1="625.96" x2="231.89" y2="439.68" stroke="#b4b4b4" stroke-width="0.9"/>
<line x1="204.85" y1="643.22" x2="197.55" y2="449.51" stroke="#b4b4b4" stroke-width="0.9"/>
<line x1="171.38" y1="662.12" x2="159.54" y2="460.38" stroke="#b4b4b4" stroke-width="0.9"/>
<line x1="134.56" y1="682.91" x2="117.23" y2="472.48" stroke="#b4b4b4" stroke-width="0.9"/>
<line x1="379.90" y1="670.65" x2="394.26" y2="464.66" stroke="#b4b4b4" stroke-width="0.9"/>
<line x1="339.00" y1="654.07" x2="347.75" y2="455.27" stroke="#b4b4b4" stroke-width="0.9"/>
<line x1="301.24" y1="638.77" x2="305.22" y2="446.70" stroke="#b4b4b4" stroke-width="0.9"/>
<line x1="266.26" y1="624.59" x2="266.18" y2="438.82" stroke="#b4b4b4" stroke-width="0.9"/>
<line x1="94.22" y1="479.06" x2="247.84" y2="435.12" stroke="#555" stroke-width="0.9"/>
<line x1="247.84" y1="435.12" x2="419.19" y2="469.69" stroke="#555" stroke-width="0.9"/>
<line x1="247.84" y1="435.12" x2="249.72" y2="617.89" stroke="#777" stroke-width="1.2"/>
<line x1="419.19" y1="469.69" x2="401.65" y2="679.47" stroke="#888" stroke-width="1"/>
<polygon points="114.73,694.11 275.83,787.13 401.65,679.47 249.72,617.89" fill="#fff" stroke="none" stroke-width="0" stroke-linejoin="round"/>
<line x1="388.73" y1="690.52" x2="235.42" y2="625.96" stroke="#cfcfcf" stroke-width="0.9"/>
<line x1="360.81" y1="714.41" x2="204.85" y2="643.22" stroke="#cfcfcf" stroke-width="0.9"/>
<line x1="329.72" y1="741.02" x2="171.38" y2="662.12" stroke="#cfcfcf" stroke-width="0.9"/>
<line x1="294.88" y1="770.83" x2="134.56" y2="682.91" stroke="#cfcfcf" stroke-width="0.9"/>
<line x1="379.90" y1="670.65" x2="252.06" y2="773.41" stroke="#cfcfcf" stroke-width="0.9"/>
<line x1="339.00" y1="654.07" x2="208.01" y2="747.97" stroke="#cfcfcf" stroke-width="0.9"/>
<line x1="301.24" y1="638.77" x2="168.08" y2="724.91" stroke="#cfcfcf" stroke-width="0.9"/>
<line x1="266.26" y1="624.59" x2="131.72" y2="703.92" stroke="#cfcfcf" stroke-width="0.9"/>
<line x1="114.73" y1="694.11" x2="249.72" y2="617.89" stroke="#111" stroke-width="1.2"/>
<line x1="249.72" y1="617.89" x2="401.65" y2="679.47" stroke="#111" stroke-width="1.2"/>
<polygon points="236.59,633.51 253.58,640.80 252.26,477.17 233.64,472.56" fill="#0080ff" stroke="#003a73" stroke-width="0.6" stroke-linejoin="round"/>
<polygon points="253.58,640.80 267.48,632.43 267.53,471.79 252.26,477.17" fill="#3399ff" stroke="#003a73" stroke-width="0.6" stroke-linejoin="round"/>
<polygon points="233.64,472.56 252.26,477.17 267.53,471.79 249.03,467.39" fill="#0064c7" stroke="#003a73" stroke-width="0.6" stroke-linejoin="round"/>
<polygon points="271.25,648.38 289.62,656.26 291.82,497.41 271.66,492.19" fill="#00ffff" stroke="#007373" stroke-width="0.6" stroke-linejoin="round"/>
<polygon points="289.62,656.26 303.26,647.22 306.71,491.34 291.82,497.41" fill="#1affff" stroke="#007373" stroke-width="0.6" stroke-linejoin="round"/>
<polygon points="271.66,492.19 291.82,497.41 306.71,491.34 286.71,486.37" fill="#00c7c7" stroke="#007373" stroke-width="0.6" stroke-linejoin="round"/>
<polygon points="308.74,664.47 328.66,673.02 334.59,517.71 312.66,511.83" fill="#00ffff" stroke="#007373" stroke-width="0.6" stroke-linejoin="round"/>
<polygon points="328.66,673.02 341.96,663.21 348.98,510.89 334.59,517.71" fill="#1affff" stroke="#007373" stroke-width="0.6" stroke-linejoin="round"/>
<polygon points="312.66,511.83 334.59,517.71 348.98,510.89 327.29,505.31" fill="#00c7c7" stroke="#007373" stroke-width="0.6" stroke-linejoin="round"/>
<polygon points="349.43,681.93 371.10,691.23 380.12,552.71 356.41,545.83" fill="#00ff80" stroke="#00733a" stroke-width="0.6" stroke-linejoin="round"/>
<polygon points="371.10,691.23 383.95,680.57 393.82,544.76 380.12,552.71" fill="#26ff93" stroke="#00733a" stroke-width="0.6" stroke-linejoin="round"/>
<polygon points="356.41,545.83 380.12,552.71 393.82,544.76 370.40,538.23" fill="#00c764" stroke="#00733a" stroke-width="0.6" stroke-linejoin="round"/>
<polygon points="205.43,651.48 222.61,659.48 219.83,557.21 201.66,550.87" fill="#00ff00" stroke="#007300" stroke-width="0.6" stroke-linejoin="round"/>
<polygon points="222.61,659.48 237.83,650.30 236.05,549.88 219.83,557.21" fill="#21ff21" stroke="#007300" stroke-width="0.6" stroke-linejoin="round"/>
<polygon points="201.66,550.87 219.83,557.21 236.05,549.88 217.97,543.83" fill="#00c700" stroke="#007300" stroke-width="0.6" stroke-linejoin="round"/>
<polygon points="240.49,667.81 259.12,676.49 258.63,575.21 238.86,568.21" fill="#00ff00" stroke="#007300" stroke-width="0.6" stroke-linejoin="round"/>
<polygon points="259.12,676.49 274.13,666.54 274.56,567.14 258.63,575.21" fill="#21ff21" stroke="#007300" stroke-width="0.6" stroke-linejoin="round"/>
<polygon points="238.86,568.21 258.63,575.21 274.56,567.14 254.94,560.48" fill="#00c700" stroke="#007300" stroke-width="0.6" stroke-linejoin="round"/>
<polygon points="278.55,685.54 298.83,694.99 300.88,592.71 279.28,585.00" fill="#00ff00" stroke="#007300" stroke-width="0.6" stroke-linejoin="round"/>
<polygon points="298.83,694.99 313.52,684.17 316.43,583.83 300.88,592.71" fill="#21ff21" stroke="#007300" stroke-width="0.6" stroke-linejoin="round"/>
<polygon points="279.28,585.00 300.88,592.71 316.43,583.83 295.03,576.51" fill="#00c700" stroke="#007300" stroke-width="0.6" stroke-linejoin="round"/>
<polygon points="320.03,704.86 342.19,715.19 346.85,617.71 323.23,609.08" fill="#80ff00" stroke="#3a7300" stroke-width="0.6" stroke-linejoin="round"/>
<polygon points="342.19,715.19 356.45,703.37 361.84,607.79 346.85,617.71" fill="#99ff33" stroke="#3a7300" stroke-width="0.6" stroke-linejoin="round"/>
<polygon points="323.23,609.08 346.85,617.71 361.84,607.79 338.49,599.61" fill="#64c700" stroke="#3a7300" stroke-width="0.6" stroke-linejoin="round"/>
<polygon points="171.25,671.20 188.55,680.02 183.82,582.69 165.59,575.49" fill="#80ff00" stroke="#3a7300" stroke-width="0.6" stroke-linejoin="round"/>
<polygon points="188.55,680.02 205.31,669.91 201.68,574.39 183.82,582.69" fill="#99ff33" stroke="#3a7300" stroke-width="0.6" stroke-linejoin="round"/>
<polygon points="165.59,575.49 183.82,582.69 201.68,574.39 183.51,567.54" fill="#64c700" stroke="#3a7300" stroke-width="0.6" stroke-linejoin="round"/>
<polygon points="206.60,689.21 225.45,698.81 222.85,598.90 202.90,591.00" fill="#80ff00" stroke="#3a7300" stroke-width="0.6" stroke-linejoin="round"/>
<polygon points="225.45,698.81 242.04,687.82 240.51,589.80 222.85,598.90" fill="#99ff33" stroke="#3a7300" stroke-width="0.6" stroke-linejoin="round"/>
<polygon points="202.90,591.00 222.85,598.90 240.51,589.80 220.68,582.31" fill="#64c700" stroke="#3a7300" stroke-width="0.6" stroke-linejoin="round"/>
<polygon points="245.15,708.85 265.77,719.35 265.69,617.65 243.78,608.93" fill="#80ff00" stroke="#3a7300" stroke-width="0.6" stroke-linejoin="round"/>
<polygon points="265.77,719.35 282.08,707.34 283.03,607.63 265.69,617.65" fill="#99ff33" stroke="#3a7300" stroke-width="0.6" stroke-linejoin="round"/>
<polygon points="243.78,608.93 265.69,617.65 283.03,607.63 261.29,599.37" fill="#64c700" stroke="#3a7300" stroke-width="0.6" stroke-linejoin="round"/>
<polygon points="287.36,730.35 309.99,741.88 312.78,641.40 288.65,631.67" fill="#80ff00" stroke="#3a7300" stroke-width="0.6" stroke-linejoin="round"/>
<polygon points="309.99,741.88 325.89,728.70 329.61,630.23 312.78,641.40" fill="#99ff33" stroke="#3a7300" stroke-width="0.6" stroke-linejoin="round"/>
<polygon points="288.65,631.67 312.78,641.40 329.61,630.23 305.73,621.04" fill="#64c700" stroke="#3a7300" stroke-width="0.6" stroke-linejoin="round"/>
<polygon points="133.57,692.94 150.93,702.70 144.69,617.21 126.55,608.90" fill="#80ff00" stroke="#3a7300" stroke-width="0.6" stroke-linejoin="round"/>
<polygon points="150.93,702.70 169.47,691.52 164.36,607.65 144.69,617.21" fill="#99ff33" stroke="#3a7300" stroke-width="0.6" stroke-linejoin="round"/>
<polygon points="126.55,608.90 144.69,617.21 164.36,607.65 146.24,599.76" fill="#64c700" stroke="#3a7300" stroke-width="0.6" stroke-linejoin="round"/>
<polygon points="169.09,712.90 188.10,723.58 183.34,628.98 163.33,619.95" fill="#80ff00" stroke="#3a7300" stroke-width="0.6" stroke-linejoin="round"/>
<polygon points="188.10,723.58 206.53,711.36 202.98,618.61 183.34,628.98" fill="#99ff33" stroke="#3a7300" stroke-width="0.6" stroke-linejoin="round"/>
<polygon points="163.33,619.95 183.34,628.98 202.98,618.61 183.04,610.07" fill="#64c700" stroke="#3a7300" stroke-width="0.6" stroke-linejoin="round"/>
<polygon points="208.02,734.77 228.90,746.51 226.44,646.43 204.29,636.49" fill="#80ff00" stroke="#3a7300" stroke-width="0.6" stroke-linejoin="round"/>
<polygon points="228.90,746.51 247.11,733.10 245.86,635.03 226.44,646.43" fill="#99ff33" stroke="#3a7300" stroke-width="0.6" stroke-linejoin="round"/>
<polygon points="204.29,636.49 226.44,646.43 245.86,635.03 223.85,625.64" fill="#64c700" stroke="#3a7300" stroke-width="0.6" stroke-linejoin="round"/>
<polygon points="250.84,758.84 273.90,771.80 274.36,671.50 249.80,660.38" fill="#80ff00" stroke="#3a7300" stroke-width="0.6" stroke-linejoin="round"/>
<polygon points="273.90,771.80 291.75,757.00 293.34,658.76 274.36,671.50" fill="#99ff33" stroke="#3a7300" stroke-width="0.6" stroke-linejoin="round"/>
<polygon points="249.80,660.38 274.36,671.50 293.34,658.76 269.01,648.29" fill="#64c700" stroke="#3a7300" stroke-width="0.6" stroke-linejoin="round"/>
<line x1="114.73" y1="694.11" x2="94.22" y2="479.06" stroke="#000" stroke-width="1.2"/>
<line x1="114.73" y1="694.11" x2="275.83" y2="787.13" stroke="#000" stroke-width="1.2"/>
<line x1="275.83" y1="787.13" x2="401.65" y2="679.47" stroke="#000" stroke-width="1.2"/>
<line x1="114.73" y1="694.11" x2="105.86" y2="698.72" stroke="#000" stroke-width="1.1"/>
<line x1="113.21" y1="678.16" x2="108.27" y2="680.59" stroke="#000" stroke-width="1.1"/>
<line x1="111.65" y1="661.88" x2="102.59" y2="666.10" stroke="#000" stroke-width="1.1"/>
<line x1="110.07" y1="645.28" x2="105.03" y2="647.48" stroke="#000" stroke-width="1.1"/>
<line x1="108.46" y1="628.33" x2="99.20" y2="632.13" stroke="#000" stroke-width="1.1"/>
<line x1="106.81" y1="611.03" x2="101.67" y2="613.00" stroke="#000" stroke-width="1.1"/>
<line x1="105.12" y1="593.37" x2="95.70" y2="596.71" stroke="#000" stroke-width="1.1"/>
<line x1="103.40" y1="575.33" x2="98.18" y2="577.04" stroke="#000" stroke-width="1.1"/>
<line x1="101.65" y1="556.90" x2="92.07" y2="559.78" stroke="#000" stroke-width="1.1"/>
<line x1="99.85" y1="538.08" x2="94.54" y2="539.52" stroke="#000" stroke-width="1.1"/>
<line x1="98.02" y1="518.84" x2="88.30" y2="521.22" stroke="#000" stroke-width="1.1"/>
<line x1="96.14" y1="499.17" x2="90.77" y2="500.34" stroke="#000" stroke-width="1.1"/>
<line x1="94.22" y1="479.06" x2="84.40" y2="480.93" stroke="#000" stroke-width="1.1"/>
<line x1="275.83" y1="787.13" x2="271.09" y2="791.20" stroke="#000" stroke-width="1.1"/>
<line x1="252.06" y1="773.41" x2="242.39" y2="781.18" stroke="#000" stroke-width="1.1"/>
<line x1="229.48" y1="760.37" x2="224.64" y2="764.04" stroke="#000" stroke-width="1.1"/>
<line x1="208.01" y1="747.97" x2="198.21" y2="755.00" stroke="#000" stroke-width="1.1"/>
<line x1="187.57" y1="736.17" x2="182.68" y2="739.49" stroke="#000" stroke-width="1.1"/>
<line x1="168.08" y1="724.91" x2="158.21" y2="731.30" stroke="#000" stroke-width="1.1"/>
<line x1="149.48" y1="714.18" x2="144.57" y2="717.21" stroke="#000" stroke-width="1.1"/>
<line x1="131.72" y1="703.92" x2="121.83" y2="709.75" stroke="#000" stroke-width="1.1"/>
<line x1="114.73" y1="694.11" x2="109.82" y2="696.88" stroke="#000" stroke-width="1.1"/>
<line x1="401.65" y1="679.47" x2="407.01" y2="681.64" stroke="#000" stroke-width="1.1"/>
<line x1="388.73" y1="690.52" x2="399.65" y2="695.11" stroke="#000" stroke-width="1.1"/>
<line x1="375.14" y1="702.15" x2="380.64" y2="704.56" stroke="#000" stroke-width="1.1"/>
<line x1="360.81" y1="714.41" x2="372.01" y2="719.52" stroke="#000" stroke-width="1.1"/>
<line x1="345.70" y1="727.35" x2="351.33" y2="730.03" stroke="#000" stroke-width="1.1"/>
<line x1="329.72" y1="741.02" x2="341.20" y2="746.74" stroke="#000" stroke-width="1.1"/>
<line x1="312.81" y1="755.49" x2="318.58" y2="758.50" stroke="#000" stroke-width="1.1"/>
<line x1="294.88" y1="770.83" x2="306.62" y2="777.27" stroke="#000" stroke-width="1.1"/>
<line x1="275.83" y1="787.13" x2="281.73" y2="790.54" stroke="#000" stroke-width="1.1"/>
<text transform="matrix(0.6142 -0.3440 0.4300 0.7678 105.86 698.72)" font-size="12.5" text-anchor="end" y="5.30" font-weight="normal" stroke="#000" stroke-width="0.35">0</text>
<text transform="matrix(0.6402 -0.3294 0.4117 0.8003 102.59 666.10)" font-size="12.5" text-anchor="end" y="5.30" font-weight="normal" stroke="#000" stroke-width="0.35">5</text>
<text transform="matrix(0.6664 -0.3125 0.3906 0.8329 99.20 632.13)" font-size="12.5" text-anchor="end" y="5.30" font-weight="normal" stroke="#000" stroke-width="0.35">10</text>
<text transform="matrix(0.6925 -0.2933 0.3666 0.8656 95.70 596.71)" font-size="12.5" text-anchor="end" y="5.30" font-weight="normal" stroke="#000" stroke-width="0.35">15</text>
<text transform="matrix(0.7184 -0.2716 0.3394 0.8980 92.07 559.78)" font-size="12.5" text-anchor="end" y="5.30" font-weight="normal" stroke="#000" stroke-width="0.35">20</text>
<text transform="matrix(0.7440 -0.2474 0.3092 0.9299 88.30 521.22)" font-size="12.5" text-anchor="end" y="5.30" font-weight="normal" stroke="#000" stroke-width="0.35">25</text>
<text transform="matrix(0.7690 -0.2207 0.2759 0.9612 84.40 480.93)" font-size="12.5" text-anchor="end" y="5.30" font-weight="normal" stroke="#000" stroke-width="0.35">30</text>
<text transform="matrix(0.7794 -0.6265 0.6883 0.4078 235.77 786.50)" font-size="12" text-anchor="end" y="4.30" font-weight="bold" stroke="#000" stroke-width="0.3">1</text>
<text transform="matrix(0.7721 -0.5535 0.7313 0.4332 191.71 759.66)" font-size="12" text-anchor="end" y="4.30" font-weight="bold" stroke="#000" stroke-width="0.3">2</text>
<text transform="matrix(0.7137 -0.4617 0.6711 0.3976 151.49 735.65)" font-size="12" text-anchor="end" y="4.30" font-weight="normal" stroke="#000" stroke-width="0.3">3</text>
<text transform="matrix(0.6891 -0.4063 0.6022 0.3568 114.51 714.07)" font-size="12" text-anchor="end" y="4.30" font-weight="normal" stroke="#000" stroke-width="0.3">4</text>
<text transform="matrix(0.7373 0.3105 -0.4122 0.3641 406.10 697.83)" font-size="12" text-anchor="start" y="4.30" font-weight="normal" stroke="#000" stroke-width="0.3">0</text>
<text transform="matrix(0.8187 0.3737 -0.4497 0.3972 378.83 722.64)" font-size="12" text-anchor="start" y="4.30" font-weight="normal" stroke="#000" stroke-width="0.3">5</text>
<text transform="matrix(0.8503 0.4237 -0.5397 0.4766 350.59 751.42)" font-size="12" text-anchor="start" y="4.30" font-weight="normal" stroke="#000" stroke-width="0.3">10</text>
<text transform="matrix(0.8593 0.4712 -0.5996 0.5296 314.95 781.84)" font-size="12" text-anchor="start" y="4.30" font-weight="bold" stroke="#000" stroke-width="0.3">15</text>
<text transform="translate(78.35 606.20) rotate(-95.2) scale(0.9 1)" font-size="14.5" text-anchor="middle">% Saving</text>
<text transform="translate(152.85 763.20) rotate(32.5) scale(0.95 1)" font-size="14.5" text-anchor="middle">Gradient</text>
<text transform="translate(385.35 755.40) rotate(-43.3) scale(0.905 1)" font-size="14.5" text-anchor="middle">Hysteresis Width (°C)</text>
<rect x="430.50" y="469.45" width="59" height="14.72" fill="#c0c0c0"/>
<rect x="430.50" y="483.57" width="59" height="14.72" fill="#0000ff"/>
<rect x="430.50" y="497.69" width="59" height="14.72" fill="#0080ff"/>
<rect x="430.50" y="511.81" width="59" height="14.72" fill="#00ffff"/>
<rect x="430.50" y="525.93" width="59" height="14.72" fill="#00ff80"/>
<rect x="430.50" y="540.05" width="59" height="14.72" fill="#00ff00"/>
<rect x="430.50" y="554.17" width="59" height="14.72" fill="#00ff00"/>
<rect x="430.50" y="568.29" width="59" height="14.72" fill="#80ff00"/>
<rect x="430.50" y="582.41" width="59" height="14.72" fill="#ffff00"/>
<rect x="430.50" y="596.53" width="59" height="14.72" fill="#ff8000"/>
<rect x="430.50" y="610.65" width="59" height="14.72" fill="#ff0000"/>
<rect x="430.50" y="624.77" width="59" height="14.12" fill="#000000"/>
<text x="494.40" y="488.17" font-size="12">30.00</text>
<text x="494.40" y="502.29" font-size="12">27.50</text>
<text x="494.40" y="516.41" font-size="12">25.00</text>
<text x="494.40" y="530.53" font-size="12">22.50</text>
<text x="494.40" y="544.65" font-size="12">20.00</text>
<text x="494.40" y="558.77" font-size="12">17.50</text>
<text x="494.40" y="572.89" font-size="12">15.00</text>
<text x="494.40" y="587.01" font-size="12">12.50</text>
<text x="494.40" y="601.13" font-size="12">10.00</text>
<text x="494.40" y="615.25" font-size="12">7.500</text>
<text x="494.40" y="629.37" font-size="12">5.000</text>
<text x="30.6" y="418.8" font-size="14.6" textLength="125.8" lengthAdjust="spacingAndGlyphs">Moscow Tc = 25 °C</text>
<text x="19.0" y="445.9" font-size="20.8" font-weight="bold">(c)</text>
</g>
<g>
<polygon points="607.02,691.50 741.50,612.87 740.99,430.30 587.04,477.77" fill="#fff" stroke="none" stroke-width="0" stroke-linejoin="round"/>
<polygon points="741.50,612.87 892.74,677.65 913.14,469.43 740.99,430.30" fill="#fff" stroke="none" stroke-width="0" stroke-linejoin="round"/>
<line x1="604.05" y1="659.69" x2="741.42" y2="585.14" stroke="#e9e9e9" stroke-width="0.8" stroke-dasharray="9 3 2 3"/>
<line x1="741.42" y1="585.14" x2="895.79" y2="646.55" stroke="#e9e9e9" stroke-width="0.8" stroke-dasharray="9 3 2 3"/>
<line x1="600.94" y1="626.49" x2="741.34" y2="556.41" stroke="#e9e9e9" stroke-width="0.8" stroke-dasharray="9 3 2 3"/>
<line x1="741.34" y1="556.41" x2="898.97" y2="614.13" stroke="#e9e9e9" stroke-width="0.8" stroke-dasharray="9 3 2 3"/>
<line x1="597.70" y1="591.80" x2="741.26" y2="526.62" stroke="#e9e9e9" stroke-width="0.8" stroke-dasharray="9 3 2 3"/>
<line x1="741.26" y1="526.62" x2="902.28" y2="580.30" stroke="#e9e9e9" stroke-width="0.8" stroke-dasharray="9 3 2 3"/>
<line x1="594.31" y1="555.53" x2="741.17" y2="495.72" stroke="#e9e9e9" stroke-width="0.8" stroke-dasharray="9 3 2 3"/>
<line x1="741.17" y1="495.72" x2="905.74" y2="544.98" stroke="#e9e9e9" stroke-width="0.8" stroke-dasharray="9 3 2 3"/>
<line x1="590.76" y1="517.56" x2="741.08" y2="463.63" stroke="#e9e9e9" stroke-width="0.8" stroke-dasharray="9 3 2 3"/>
<line x1="741.08" y1="463.63" x2="909.36" y2="508.06" stroke="#e9e9e9" stroke-width="0.8" stroke-dasharray="9 3 2 3"/>
<line x1="727.23" y1="621.21" x2="725.00" y2="435.23" stroke="#b4b4b4" stroke-width="0.9"/>
<line x1="696.75" y1="639.03" x2="690.58" y2="445.84" stroke="#b4b4b4" stroke-width="0.9"/>
<line x1="663.40" y1="658.53" x2="652.49" y2="457.59" stroke="#b4b4b4" stroke-width="0.9"/>
<line x1="626.75" y1="679.96" x2="610.09" y2="470.66" stroke="#b4b4b4" stroke-width="0.9"/>
<line x1="871.14" y1="668.40" x2="888.13" y2="463.75" stroke="#b4b4b4" stroke-width="0.9"/>
<line x1="830.47" y1="650.98" x2="841.43" y2="453.13" stroke="#b4b4b4" stroke-width="0.9"/>
<line x1="792.86" y1="634.87" x2="798.70" y2="443.42" stroke="#b4b4b4" stroke-width="0.9"/>
<line x1="758.00" y1="619.94" x2="759.44" y2="434.50" stroke="#b4b4b4" stroke-width="0.9"/>
<line x1="587.04" y1="477.77" x2="740.99" y2="430.30" stroke="#555" stroke-width="0.9"/>
<line x1="740.99" y1="430.30" x2="913.14" y2="469.43" stroke="#555" stroke-width="0.9"/>
<line x1="740.99" y1="430.30" x2="741.50" y2="612.87" stroke="#777" stroke-width="1.2"/>
<line x1="913.14" y1="469.43" x2="892.74" y2="677.65" stroke="#888" stroke-width="1"/>
<polygon points="607.02,691.50 767.50,788.51 892.74,677.65 741.50,612.87" fill="#fff" stroke="none" stroke-width="0" stroke-linejoin="round"/>
<line x1="879.86" y1="689.06" x2="727.23" y2="621.21" stroke="#cfcfcf" stroke-width="0.9"/>
<line x1="852.03" y1="713.69" x2="696.75" y2="639.03" stroke="#cfcfcf" stroke-width="0.9"/>
<line x1="821.07" y1="741.09" x2="663.40" y2="658.53" stroke="#cfcfcf" stroke-width="0.9"/>
<line x1="786.42" y1="771.76" x2="626.75" y2="679.96" stroke="#cfcfcf" stroke-width="0.9"/>
<line x1="871.14" y1="668.40" x2="743.89" y2="774.23" stroke="#cfcfcf" stroke-width="0.9"/>
<line x1="830.47" y1="650.98" x2="700.08" y2="747.75" stroke="#cfcfcf" stroke-width="0.9"/>
<line x1="792.86" y1="634.87" x2="660.29" y2="723.70" stroke="#cfcfcf" stroke-width="0.9"/>
<line x1="758.00" y1="619.94" x2="624.00" y2="701.76" stroke="#cfcfcf" stroke-width="0.9"/>
<line x1="607.02" y1="691.50" x2="741.50" y2="612.87" stroke="#111" stroke-width="1.2"/>
<line x1="741.50" y1="612.87" x2="892.74" y2="677.65" stroke="#111" stroke-width="1.2"/>
<polygon points="728.40,629.08 745.36,636.76 745.29,444.95 726.27,440.34" fill="#0000ff" stroke="#000073" stroke-width="0.6" stroke-linejoin="round"/>
<polygon points="745.36,636.76 759.21,628.11 760.83,439.78 745.29,444.95" fill="#4040ff" stroke="#000073" stroke-width="0.6" stroke-linejoin="round"/>
<polygon points="726.27,440.34 745.29,444.95 760.83,439.78 741.93,435.38" fill="#0000c7" stroke="#000073" stroke-width="0.6" stroke-linejoin="round"/>
<polygon points="762.97,644.73 781.27,653.02 785.64,464.97 765.03,459.75" fill="#0000ff" stroke="#000073" stroke-width="0.6" stroke-linejoin="round"/>
<polygon points="781.27,653.02 794.87,643.68 800.77,459.12 785.64,464.97" fill="#4040ff" stroke="#000073" stroke-width="0.6" stroke-linejoin="round"/>
<polygon points="765.03,459.75 785.64,464.97 800.77,459.12 780.34,454.15" fill="#0000c7" stroke="#000073" stroke-width="0.6" stroke-linejoin="round"/>
<polygon points="800.31,661.64 820.13,670.61 828.73,496.25 806.47,490.17" fill="#0080ff" stroke="#003a73" stroke-width="0.6" stroke-linejoin="round"/>
<polygon points="820.13,670.61 833.40,660.49 843.27,489.41 828.73,496.25" fill="#3399ff" stroke="#003a73" stroke-width="0.6" stroke-linejoin="round"/>
<polygon points="806.47,490.17 828.73,496.25 843.27,489.41 821.25,483.63" fill="#0064c7" stroke="#003a73" stroke-width="0.6" stroke-linejoin="round"/>
<polygon points="840.78,679.96 862.32,689.71 873.69,544.45 849.84,537.10" fill="#00ff80" stroke="#00733a" stroke-width="0.6" stroke-linejoin="round"/>
<polygon points="862.32,689.71 875.14,678.72 887.43,536.19 873.69,544.45" fill="#26ff93" stroke="#00733a" stroke-width="0.6" stroke-linejoin="round"/>
<polygon points="849.84,537.10 873.69,544.45 887.43,536.19 863.88,529.21" fill="#00c764" stroke="#00733a" stroke-width="0.6" stroke-linejoin="round"/>
<polygon points="697.35,647.63 714.48,656.03 712.03,536.95 693.63,530.40" fill="#00ff00" stroke="#007300" stroke-width="0.6" stroke-linejoin="round"/>
<polygon points="714.48,656.03 729.66,646.56 728.42,529.58 712.03,536.95" fill="#21ff21" stroke="#007300" stroke-width="0.6" stroke-linejoin="round"/>
<polygon points="693.63,530.40 712.03,536.95 728.42,529.58 710.11,523.33" fill="#00c700" stroke="#007300" stroke-width="0.6" stroke-linejoin="round"/>
<polygon points="732.31,664.78 750.88,673.88 751.25,562.98 731.34,555.62" fill="#00ff00" stroke="#007300" stroke-width="0.6" stroke-linejoin="round"/>
<polygon points="750.88,673.88 765.83,663.62 767.27,554.70 751.25,562.98" fill="#21ff21" stroke="#007300" stroke-width="0.6" stroke-linejoin="round"/>
<polygon points="731.34,555.62 751.25,562.98 767.27,554.70 747.49,547.70" fill="#00c700" stroke="#007300" stroke-width="0.6" stroke-linejoin="round"/>
<polygon points="770.23,683.38 790.42,693.28 793.61,587.00 771.94,578.81" fill="#00ff00" stroke="#007300" stroke-width="0.6" stroke-linejoin="round"/>
<polygon points="790.42,693.28 805.05,682.11 809.18,577.78 793.61,587.00" fill="#21ff21" stroke="#007300" stroke-width="0.6" stroke-linejoin="round"/>
<polygon points="771.94,578.81 793.61,587.00 809.18,577.78 787.71,569.99" fill="#00c700" stroke="#007300" stroke-width="0.6" stroke-linejoin="round"/>
<polygon points="811.49,703.61 833.51,714.41 839.59,613.01 815.93,603.86" fill="#80ff00" stroke="#3a7300" stroke-width="0.6" stroke-linejoin="round"/>
<polygon points="833.51,714.41 847.71,702.23 854.59,602.71 839.59,613.01" fill="#99ff33" stroke="#3a7300" stroke-width="0.6" stroke-linejoin="round"/>
<polygon points="815.93,603.86 839.59,613.01 854.59,602.71 831.20,594.03" fill="#64c700" stroke="#3a7300" stroke-width="0.6" stroke-linejoin="round"/>
<polygon points="663.30,667.97 680.57,677.21 675.49,560.49 657.01,553.11" fill="#00ff00" stroke="#007300" stroke-width="0.6" stroke-linejoin="round"/>
<polygon points="680.57,677.21 697.26,666.79 693.57,552.18 675.49,560.49" fill="#21ff21" stroke="#007300" stroke-width="0.6" stroke-linejoin="round"/>
<polygon points="657.01,553.11 675.49,560.49 693.57,552.18 675.16,545.16" fill="#00c700" stroke="#007300" stroke-width="0.6" stroke-linejoin="round"/>
<polygon points="698.58,686.85 717.37,696.90 715.22,585.71 695.11,577.46" fill="#00ff00" stroke="#007300" stroke-width="0.6" stroke-linejoin="round"/>
<polygon points="717.37,696.90 733.87,685.56 732.99,576.42 715.22,585.71" fill="#21ff21" stroke="#007300" stroke-width="0.6" stroke-linejoin="round"/>
<polygon points="695.11,577.46 715.22,585.71 732.99,576.42 712.99,568.58" fill="#00c700" stroke="#007300" stroke-width="0.6" stroke-linejoin="round"/>
<polygon points="736.99,707.40 757.50,718.38 758.37,609.95 736.34,600.76" fill="#00ff00" stroke="#007300" stroke-width="0.6" stroke-linejoin="round"/>
<polygon points="757.50,718.38 773.73,706.00 775.75,599.61 758.37,609.95" fill="#21ff21" stroke="#007300" stroke-width="0.6" stroke-linejoin="round"/>
<polygon points="736.34,600.76 758.37,609.95 775.75,599.61 753.90,590.90" fill="#00c700" stroke="#007300" stroke-width="0.6" stroke-linejoin="round"/>
<polygon points="778.97,729.87 801.46,741.90 805.52,637.00 781.33,626.72" fill="#80ff00" stroke="#3a7300" stroke-width="0.6" stroke-linejoin="round"/>
<polygon points="801.46,741.90 817.28,728.33 822.36,625.42 805.52,637.00" fill="#99ff33" stroke="#3a7300" stroke-width="0.6" stroke-linejoin="round"/>
<polygon points="781.33,626.72 805.52,637.00 822.36,625.42 798.42,615.70" fill="#64c700" stroke="#3a7300" stroke-width="0.6" stroke-linejoin="round"/>
<polygon points="625.80,690.37 643.14,700.58 635.53,591.19 617.11,582.76" fill="#00ff00" stroke="#007300" stroke-width="0.6" stroke-linejoin="round"/>
<polygon points="643.14,700.58 661.58,689.07 655.50,581.70 635.53,591.19" fill="#21ff21" stroke="#007300" stroke-width="0.6" stroke-linejoin="round"/>
<polygon points="617.11,582.76 635.53,591.19 655.50,581.70 637.09,573.69" fill="#00c700" stroke="#007300" stroke-width="0.6" stroke-linejoin="round"/>
<polygon points="661.27,711.25 680.22,722.41 675.26,612.48 655.02,603.14" fill="#00ff00" stroke="#007300" stroke-width="0.6" stroke-linejoin="round"/>
<polygon points="680.22,722.41 698.54,709.83 695.06,601.97 675.26,612.48" fill="#21ff21" stroke="#007300" stroke-width="0.6" stroke-linejoin="round"/>
<polygon points="655.02,603.14 675.26,612.48 695.06,601.97 674.90,593.12" fill="#00c700" stroke="#007300" stroke-width="0.6" stroke-linejoin="round"/>
<polygon points="700.06,734.09 720.85,746.33 718.91,635.49 696.60,625.12" fill="#00ff00" stroke="#007300" stroke-width="0.6" stroke-linejoin="round"/>
<polygon points="720.85,746.33 738.95,732.53 738.43,623.81 718.91,635.49" fill="#21ff21" stroke="#007300" stroke-width="0.6" stroke-linejoin="round"/>
<polygon points="696.60,625.12 718.91,635.49 738.43,623.81 716.26,614.02" fill="#00c700" stroke="#007300" stroke-width="0.6" stroke-linejoin="round"/>
<polygon points="742.67,759.18 765.58,772.67 767.03,669.57 742.44,657.83" fill="#80ff00" stroke="#3a7300" stroke-width="0.6" stroke-linejoin="round"/>
<polygon points="765.58,772.67 783.32,757.45 785.99,656.35 767.03,669.57" fill="#99ff33" stroke="#3a7300" stroke-width="0.6" stroke-linejoin="round"/>
<polygon points="742.44,657.83 767.03,669.57 785.99,656.35 761.63,645.29" fill="#64c700" stroke="#3a7300" stroke-width="0.6" stroke-linejoin="round"/>
<line x1="607.02" y1="691.50" x2="587.04" y2="477.77" stroke="#000" stroke-width="1.2"/>
<line x1="607.02" y1="691.50" x2="767.50" y2="788.51" stroke="#000" stroke-width="1.2"/>
<line x1="767.50" y1="788.51" x2="892.74" y2="677.65" stroke="#000" stroke-width="1.2"/>
<line x1="607.02" y1="691.50" x2="598.46" y2="696.67" stroke="#000" stroke-width="1.1"/>
<line x1="605.55" y1="675.76" x2="600.79" y2="678.51" stroke="#000" stroke-width="1.1"/>
<line x1="604.05" y1="659.69" x2="595.28" y2="664.51" stroke="#000" stroke-width="1.1"/>
<line x1="602.51" y1="643.27" x2="597.64" y2="645.82" stroke="#000" stroke-width="1.1"/>
<line x1="600.94" y1="626.49" x2="591.98" y2="630.93" stroke="#000" stroke-width="1.1"/>
<line x1="599.34" y1="609.34" x2="594.36" y2="611.67" stroke="#000" stroke-width="1.1"/>
<line x1="597.70" y1="591.80" x2="588.55" y2="595.83" stroke="#000" stroke-width="1.1"/>
<line x1="596.02" y1="573.87" x2="590.94" y2="575.97" stroke="#000" stroke-width="1.1"/>
<line x1="594.31" y1="555.53" x2="584.98" y2="559.12" stroke="#000" stroke-width="1.1"/>
<line x1="592.56" y1="536.77" x2="587.38" y2="538.62" stroke="#000" stroke-width="1.1"/>
<line x1="590.76" y1="517.56" x2="581.26" y2="520.69" stroke="#000" stroke-width="1.1"/>
<line x1="588.92" y1="497.90" x2="583.66" y2="499.49" stroke="#000" stroke-width="1.1"/>
<line x1="587.04" y1="477.77" x2="577.40" y2="480.42" stroke="#000" stroke-width="1.1"/>
<line x1="767.50" y1="788.51" x2="762.78" y2="792.68" stroke="#000" stroke-width="1.1"/>
<line x1="743.89" y1="774.23" x2="734.29" y2="782.22" stroke="#000" stroke-width="1.1"/>
<line x1="721.44" y1="760.66" x2="716.64" y2="764.43" stroke="#000" stroke-width="1.1"/>
<line x1="700.08" y1="747.75" x2="690.34" y2="754.98" stroke="#000" stroke-width="1.1"/>
<line x1="679.72" y1="735.44" x2="674.86" y2="738.86" stroke="#000" stroke-width="1.1"/>
<line x1="660.29" y1="723.70" x2="650.48" y2="730.27" stroke="#000" stroke-width="1.1"/>
<line x1="641.74" y1="712.48" x2="636.85" y2="715.60" stroke="#000" stroke-width="1.1"/>
<line x1="624.00" y1="701.76" x2="614.16" y2="707.76" stroke="#000" stroke-width="1.1"/>
<line x1="607.02" y1="691.50" x2="602.14" y2="694.35" stroke="#000" stroke-width="1.1"/>
<line x1="892.74" y1="677.65" x2="898.06" y2="679.93" stroke="#000" stroke-width="1.1"/>
<line x1="879.86" y1="689.06" x2="890.69" y2="693.87" stroke="#000" stroke-width="1.1"/>
<line x1="866.30" y1="701.06" x2="871.76" y2="703.58" stroke="#000" stroke-width="1.1"/>
<line x1="852.03" y1="713.69" x2="863.14" y2="719.03" stroke="#000" stroke-width="1.1"/>
<line x1="836.97" y1="727.02" x2="842.56" y2="729.82" stroke="#000" stroke-width="1.1"/>
<line x1="821.07" y1="741.09" x2="832.45" y2="747.06" stroke="#000" stroke-width="1.1"/>
<line x1="804.24" y1="755.98" x2="809.97" y2="759.12" stroke="#000" stroke-width="1.1"/>
<line x1="786.42" y1="771.76" x2="798.07" y2="778.46" stroke="#000" stroke-width="1.1"/>
<line x1="767.50" y1="788.51" x2="773.35" y2="792.04" stroke="#000" stroke-width="1.1"/>
<text transform="matrix(0.6142 -0.3440 0.4300 0.7678 598.46 696.67)" font-size="12.5" text-anchor="end" y="5.30" font-weight="normal" stroke="#000" stroke-width="0.35">0</text>
<text transform="matrix(0.6402 -0.3294 0.4117 0.8003 595.28 664.51)" font-size="12.5" text-anchor="end" y="5.30" font-weight="normal" stroke="#000" stroke-width="0.35">5</text>
<text transform="matrix(0.6664 -0.3125 0.3906 0.8329 591.98 630.93)" font-size="12.5" text-anchor="end" y="5.30" font-weight="normal" stroke="#000" stroke-width="0.35">10</text>
<text transform="matrix(0.6925 -0.2933 0.3666 0.8656 588.55 595.83)" font-size="12.5" text-anchor="end" y="5.30" font-weight="normal" stroke="#000" stroke-width="0.35">15</text>
<text transform="matrix(0.7184 -0.2716 0.3394 0.8980 584.98 559.12)" font-size="12.5" text-anchor="end" y="5.30" font-weight="normal" stroke="#000" stroke-width="0.35">20</text>
<text transform="matrix(0.7440 -0.2474 0.3092 0.9299 581.26 520.69)" font-size="12.5" text-anchor="end" y="5.30" font-weight="normal" stroke="#000" stroke-width="0.35">25</text>
<text transform="matrix(0.7690 -0.2207 0.2759 0.9612 577.40 480.42)" font-size="12.5" text-anchor="end" y="5.30" font-weight="normal" stroke="#000" stroke-width="0.35">30</text>
<text transform="matrix(0.7688 -0.6394 0.6800 0.4215 727.75 787.65)" font-size="12" text-anchor="end" y="4.30" font-weight="bold" stroke="#000" stroke-width="0.3">1</text>
<text transform="matrix(0.7629 -0.5662 0.7225 0.4478 683.91 759.74)" font-size="12" text-anchor="end" y="4.30" font-weight="bold" stroke="#000" stroke-width="0.3">2</text>
<text transform="matrix(0.7062 -0.4731 0.6630 0.4109 643.83 734.72)" font-size="12" text-anchor="end" y="4.30" font-weight="normal" stroke="#000" stroke-width="0.3">3</text>
<text transform="matrix(0.6828 -0.4169 0.5950 0.3688 606.91 712.19)" font-size="12" text-anchor="end" y="4.30" font-weight="normal" stroke="#000" stroke-width="0.3">4</text>
<text transform="matrix(0.7310 0.3249 -0.4061 0.3709 897.09 696.72)" font-size="12" text-anchor="start" y="4.30" font-weight="normal" stroke="#000" stroke-width="0.3">0</text>
<text transform="matrix(0.8111 0.3900 -0.4431 0.4046 869.90 722.28)" font-size="12" text-anchor="start" y="4.30" font-weight="normal" stroke="#000" stroke-width="0.3">5</text>
<text transform="matrix(0.8416 0.4407 -0.5317 0.4855 841.75 751.93)" font-size="12" text-anchor="start" y="4.30" font-weight="normal" stroke="#000" stroke-width="0.3">10</text>
<text transform="matrix(0.8496 0.4884 -0.5907 0.5395 806.30 783.19)" font-size="12" text-anchor="start" y="4.30" font-weight="bold" stroke="#000" stroke-width="0.3">15</text>
<text transform="translate(570.30 605.60) rotate(-95.2) scale(0.9 1)" font-size="14.5" text-anchor="middle">% Saving</text>
<text transform="translate(644.80 762.60) rotate(32.5) scale(0.95 1)" font-size="14.5" text-anchor="middle">Gradient</text>
<text transform="translate(877.30 754.80) rotate(-43.3) scale(0.905 1)" font-size="14.5" text-anchor="middle">Hysteresis Width (°C)</text>
<rect x="922.00" y="472.05" width="59" height="14.76" fill="#c0c0c0"/>
<rect x="922.00" y="486.21" width="59" height="14.76" fill="#0000ff"/>
<rect x="922.00" y="500.37" width="59" height="14.76" fill="#0080ff"/>
<rect x="922.00" y="514.53" width="59" height="14.76" fill="#00ffff"/>
<rect x="922.00" y="528.69" width="59" height="14.76" fill="#00ff80"/>
<rect x="922.00" y="542.85" width="59" height="14.76" fill="#00ff00"/>
<rect x="922.00" y="557.01" width="59" height="14.76" fill="#00ff00"/>
<rect x="922.00" y="571.17" width="59" height="14.76" fill="#80ff00"/>
<rect x="922.00" y="585.33" width="59" height="14.76" fill="#ffff00"/>
<rect x="922.00" y="599.49" width="59" height="14.76" fill="#ff8000"/>
<rect x="922.00" y="613.65" width="59" height="14.76" fill="#ff0000"/>
<rect x="922.00" y="627.81" width="59" height="14.16" fill="#000000"/>
<text x="985.90" y="490.81" font-size="12">30.00</text>
<text x="985.90" y="504.97" font-size="12">27.50</text>
<text x="985.90" y="519.13" font-size="12">25.00</text>
<text x="985.90" y="533.29" font-size="12">22.50</text>
<text x="985.90" y="547.45" font-size="12">20.00</text>
<text x="985.90" y="561.61" font-size="12">17.50</text>
<text x="985.90" y="575.77" font-size="12">15.00</text>
<text x="985.90" y="589.93" font-size="12">12.50</text>
<text x="985.90" y="604.09" font-size="12">10.00</text>
<text x="985.90" y="618.25" font-size="12">7.500</text>
<text x="985.90" y="632.41" font-size="12">5.000</text>
<text clip-path="url(#cd)" x="519.3" y="416.4" font-size="14.6" textLength="125.8" lengthAdjust="spacingAndGlyphs">Moscow Tc = 20 °C</text>
<text x="536.2" y="445.9" font-size="20.8" font-weight="bold">(d)</text>
</g>
</svg>
</body></html>
